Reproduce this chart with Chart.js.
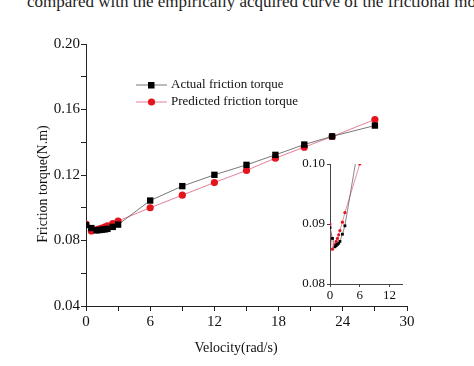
<!DOCTYPE html>
<html lang="en">
<head>
    <meta charset="UTF-8">
    <title>Friction torque</title>
    <script src="https://cdn.jsdelivr.net/npm/chart.js"></script>
    <style>
        body {
            margin: 0;
            background: #fff;
            width: 474px;
            height: 366px;
            overflow: hidden;
            position: relative;
        }
        .caption {
            position: absolute;
            left: 27px;
            top: -7px;
            font-family: "Liberation Serif", "Times New Roman", serif;
            font-size: 17px;
            line-height: 17px;
            white-space: nowrap;
            color: #222;
        }
        #mainChart { position: absolute; left: 0; top: 0; }
        #insetChart { position: absolute; left: 290px; top: 150px; }
    </style>
</head>
<body>
<div class="caption">compared with the empirically acquired curve of the frictional moment</div>
<canvas id="mainChart" width="474" height="366"></canvas>
<canvas id="insetChart" width="125" height="160"></canvas>

<script>
    // data
    const velocity = [0, 0.5, 1.0, 1.25, 1.5, 1.75, 2.0, 2.5, 3.0, 6, 9, 12, 15, 17.7, 20.4, 23, 27];
    const actualTorque = [0.0894, 0.0876, 0.0862, 0.0864, 0.0866, 0.0868, 0.0871, 0.0883, 0.0897,
        0.1044, 0.1132, 0.1201, 0.1262, 0.1323, 0.1386, 0.1436, 0.1502];
    const predictedTorque = [0.0900, 0.0858, 0.0866, 0.0871, 0.0876, 0.0882, 0.0889, 0.0903, 0.0919,
        0.1000, 0.1077, 0.1154, 0.1228, 0.1303, 0.1370, 0.1435, 0.1539];
    const seriesNames = ['Actual friction torque', 'Predicted friction torque'];
    const xTitle = 'Velocity(rad/s)';
    const yTitle = 'Friction torque(N.m)';

    const serif = '"Liberation Serif", "Times New Roman", serif';
    const axisColor = '#222';
    const blackLine = '#555';
    const redLine = '#e0607a';
    const red = '#e3141e';

    function toPoints(xs, ys) {
        return xs.map((x, i) => ({ x: x, y: ys[i] }));
    }

    // titles and legend for the big chart
    const decorations = {
        id: 'decorations',
        afterDraw(chart) {
            const ctx = chart.ctx;
            ctx.save();
            ctx.fillStyle = '#111';
            ctx.font = '14px ' + serif;
            ctx.textAlign = 'center';
            ctx.textBaseline = 'middle';
            ctx.fillText(xTitle, 236, 348);
            ctx.translate(43, 184);
            ctx.rotate(-Math.PI / 2);
            ctx.fillText(yTitle, 0, 0);
            ctx.restore();

            // legend
            ctx.save();
            ctx.font = '13px ' + serif;
            ctx.textBaseline = 'middle';
            ctx.lineWidth = 0.8;

            ctx.strokeStyle = blackLine;
            ctx.beginPath(); ctx.moveTo(136, 85); ctx.lineTo(167, 85); ctx.stroke();
            ctx.fillStyle = '#000';
            ctx.fillRect(148, 82, 6.5, 6.5);
            ctx.fillStyle = '#111';
            ctx.fillText(seriesNames[0], 171, 85);

            ctx.strokeStyle = redLine;
            ctx.beginPath(); ctx.moveTo(136, 102); ctx.lineTo(167, 102); ctx.stroke();
            ctx.fillStyle = red;
            ctx.beginPath(); ctx.arc(151.5, 102, 3.6, 0, Math.PI * 2); ctx.fill();
            ctx.fillStyle = '#111';
            ctx.fillText(seriesNames[1], 171, 102);
            ctx.restore();
        }
    };

    new Chart(document.getElementById('mainChart'), {
        type: 'line',
        data: {
            datasets: [{
                label: seriesNames[0],
                data: toPoints(velocity, actualTorque),
                borderColor: blackLine,
                borderWidth: 0.8,
                pointStyle: 'rect',
                pointRadius: 4.5,
                pointBackgroundColor: '#000',
                pointBorderWidth: 0
            }, {
                label: seriesNames[1],
                data: toPoints(velocity, predictedTorque),
                borderColor: redLine,
                borderWidth: 0.8,
                pointStyle: 'circle',
                pointRadius: 3.6,
                pointBackgroundColor: red,
                pointBorderWidth: 0
            }]
        },
        options: {
            responsive: false,
            animation: false,
            layout: { padding: { top: 44, right: 67, left: 0, bottom: 0 } },
            plugins: { legend: { display: false }, tooltip: { enabled: false } },
            scales: {
                x: {
                    type: 'linear',
                    min: 0,
                    max: 30,
                    afterFit: s => { s.height = 60; },
                    border: { display: true, color: axisColor, width: 1 },
                    grid: { drawOnChartArea: false, drawTicks: true, tickLength: 5, color: axisColor },
                    ticks: {
                        stepSize: 3,
                        autoSkip: false,
                        maxRotation: 0,
                        padding: 2,
                        color: '#111',
                        font: { family: serif, size: 15 },
                        callback: v => (v % 6 === 0 ? v : '')
                    }
                },
                y: {
                    min: 0.04,
                    max: 0.20,
                    afterFit: s => { s.width = 86; },
                    border: { display: true, color: axisColor, width: 1 },
                    grid: { drawOnChartArea: false, drawTicks: true, tickLength: 5, color: axisColor },
                    ticks: {
                        stepSize: 0.02,
                        autoSkip: false,
                        padding: 1,
                        color: '#111',
                        font: { family: serif, size: 15 },
                        callback: v => (Math.round(v * 100) % 4 === 0 ? v.toFixed(2) : '')
                    }
                }
            }
        },
        plugins: [decorations]
    });

    // zoomed view of the low velocity range
    new Chart(document.getElementById('insetChart'), {
        type: 'line',
        data: {
            datasets: [{
                data: toPoints(velocity, actualTorque),
                borderColor: blackLine,
                borderWidth: 0.7,
                pointStyle: 'rect',
                pointRadius: 2,
                pointBackgroundColor: '#000',
                pointBorderWidth: 0
            }, {
                data: toPoints(velocity, predictedTorque),
                borderColor: redLine,
                borderWidth: 0.7,
                pointStyle: 'circle',
                pointRadius: 1.6,
                pointBackgroundColor: red,
                pointBorderWidth: 0
            }]
        },
        options: {
            responsive: false,
            animation: false,
            layout: { padding: { top: 14, right: 13, left: 0, bottom: 0 } },
            plugins: { legend: { display: false }, tooltip: { enabled: false } },
            scales: {
                x: {
                    type: 'linear',
                    min: 0,
                    max: 14.5,
                    afterFit: s => { s.height = 26; },
                    border: { display: true, color: '#444', width: 1 },
                    grid: { drawOnChartArea: false, drawTicks: true, tickLength: 3, color: '#444' },
                    ticks: {
                        stepSize: 6,
                        includeBounds: false,
                        autoSkip: false,
                        maxRotation: 0,
                        padding: 1,
                        color: '#111',
                        font: { family: serif, size: 13 }
                    }
                },
                y: {
                    min: 0.08,
                    max: 0.10,
                    afterFit: s => { s.width = 40; },
                    border: { display: true, color: '#444', width: 1 },
                    grid: { drawOnChartArea: false, drawTicks: true, tickLength: 3, color: '#444' },
                    ticks: {
                        stepSize: 0.01,
                        autoSkip: false,
                        padding: 2,
                        color: '#111',
                        font: { family: serif, size: 13 },
                        callback: v => v.toFixed(2)
                    }
                }
            }
        }
    });
</script>
</body>
</html>
